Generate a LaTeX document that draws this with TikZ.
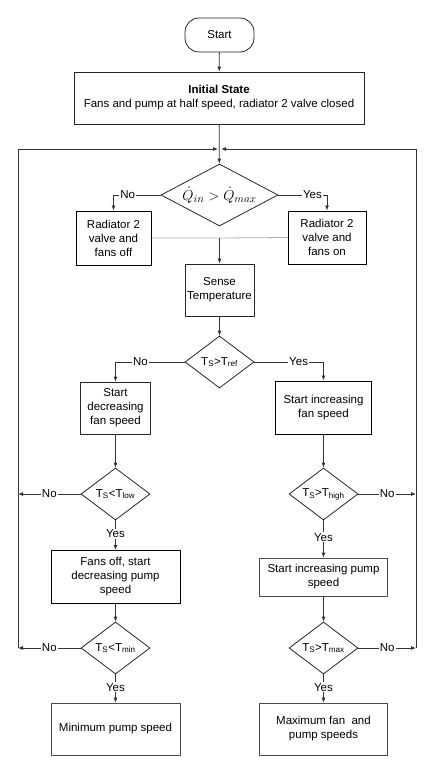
\documentclass[tikz,border=0pt]{standalone}
\usepackage{fontspec}
\setmainfont{Liberation Sans}
\usetikzlibrary{shapes.geometric,arrows.meta}

\begin{document}
\begin{tikzpicture}[x=1pt,y=-1pt,
    every node/.style={font=\fontsize{11.5}{14}\selectfont, align=center},
    box/.style={draw=black!85, line width=0.8pt, inner sep=2pt},
    thickbox/.style={box, draw=black, line width=1pt},
    thinbox/.style={box, draw=black!70, line width=0.6pt},
    test/.style={draw=black!85, diamond, line width=0.8pt, inner sep=0pt,
      minimum width=69pt, minimum height=52pt, aspect=1.33},
    flow/.style={draw=black!80, line width=0.8pt, -{Latex[length=5pt,width=4pt]}},
    link/.style={draw=black!80, line width=0.8pt},
    tag/.style={fill=white, inner sep=1pt}]
  \useasboundingbox (0,0) rectangle (434,773);

  \node[box, rounded corners=14pt, minimum width=69pt, minimum height=34pt] (start) at (219.5,35) {Start};
  \node[box, minimum width=290pt, minimum height=52pt] (init) at (219,98)
    {\textbf{Initial State}\\Fans and pump at half speed, radiator 2 valve closed};
  \node[test, minimum width=117pt, minimum height=62pt, aspect=1.9] (qtest) at (219.5,195)
    {\fontsize{15}{15}\selectfont $\dot{Q}_{in} > \dot{Q}_{max}$};
  \node[thickbox, minimum width=75pt, minimum height=54pt] (radoff) at (113.5,238) {Radiator 2\\valve and\\fans off};
  \node[thickbox, minimum width=78pt, minimum height=53pt] (radon) at (327,237.5) {Radiator 2\\valve and\\fans on};
  \node[box, minimum width=69pt, minimum height=52pt] (sense) at (219.5,290) {Sense\\Temperature};
  \node[test] (tref) at (219.5,362) {T\textsubscript{S}>T\textsubscript{ref}};
  \node[box, minimum width=70pt, minimum height=52pt] (decfan) at (115.5,408) {Start\\decreasing\\fan speed};
  \node[thickbox, minimum width=96pt, minimum height=53pt] (incfan) at (323.5,407.5) {Start increasing\\fan speed};
  \node[test] (tlow) at (115.5,494) {T\textsubscript{S}<T\textsubscript{low}};
  \node[test] (thigh) at (323.5,494) {T\textsubscript{S}>T\textsubscript{high}};
  \node[thickbox, minimum width=129pt, minimum height=53pt] (fansoff) at (115.5,577) {Fans off, start\\decreasing pump\\speed};
  \node[thinbox, minimum width=128pt, minimum height=38pt] (incpump) at (323.5,577) {Start increasing pump\\speed};
  \node[test] (tmin) at (115.5,648) {T\textsubscript{S}<T\textsubscript{min}};
  \node[test] (tmax) at (323.5,648) {T\textsubscript{S}>T\textsubscript{max}};
  \node[thinbox, minimum width=129pt, minimum height=52pt] (minpump) at (115.5,729) {Minimum pump speed};
  \node[thinbox, minimum width=128pt, minimum height=52pt] (maxfan) at (323.5,729) {Maximum fan\ \ and\\pump speeds};

  \coordinate (join) at (219.5,149);
  \coordinate (merge) at (219.5,238);
  \coordinate (lefttop) at (18,149);
  \coordinate (leftlow) at (18,494);
  \coordinate (leftbot) at (18,648);
  \coordinate (righttop) at (416,149);
  \coordinate (rightlow) at (416,494);
  \coordinate (rightbot) at (416,648);

  \draw[flow] (start) -- (init);
  \draw[flow] (init) -- (qtest);
  \draw[flow] (qtest.west) -| node[tag, pos=0.35] {No} (radoff.north);
  \draw[flow] (qtest.east) -| node[tag, pos=0.35] {Yes} (radon.north);
  \draw[link, draw=black!30] (radoff.east) -- (merge) -- (radon.west);
  \draw[flow] (merge) -- (sense);
  \draw[flow] (sense) -- (tref);
  \draw[flow] (tref.west) -| node[tag, pos=0.32] {No} (decfan.north);
  \draw[flow] (tref.east) -| node[tag, pos=0.32] {Yes} (incfan.north);
  \draw[flow] (decfan) -- (tlow);
  \draw[flow] (incfan) -- (thigh);
  \draw[flow] (tlow) -- node[tag, pos=0.45] {Yes} (fansoff);
  \draw[flow] (thigh) -- node[tag, pos=0.45] {Yes} (incpump);
  \draw[flow] (fansoff) -- (tmin);
  \draw[flow] (incpump) -- (tmax);
  \draw[flow] (tmin) -- node[tag, pos=0.45] {Yes} (minpump);
  \draw[flow] (tmax) -- node[tag, pos=0.45] {Yes} (maxfan);
  \draw[flow] (tlow) -- node[tag] {No} (leftlow);
  \draw[flow] (tmin) -- node[tag] {No} (leftbot);
  \draw[flow] (thigh) -- node[tag] {No} (rightlow);
  \draw[flow] (tmax) -- node[tag] {No} (rightbot);
  \draw[flow, shorten >=1.5pt] (leftbot) -- (lefttop) -- (join);
  \draw[flow, shorten >=1.5pt] (rightbot) -- (righttop) -- (join);
\end{tikzpicture}
\end{document}
